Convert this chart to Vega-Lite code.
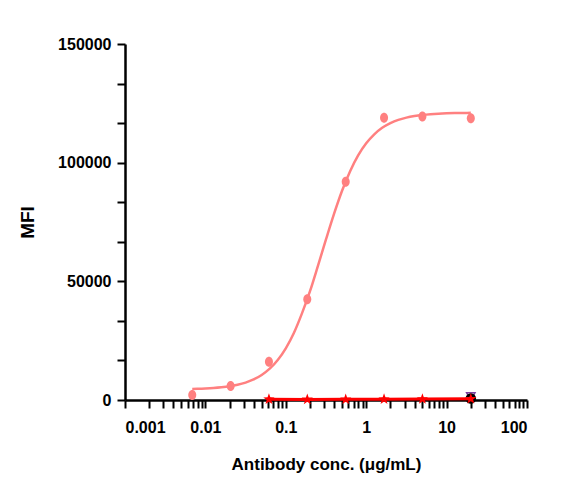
{
  "$schema": "https://vega.github.io/schema/vega-lite/v6.json",
  "width": 402,
  "height": 356,
  "autosize": {"type": "none"},
  "padding": {"left": 125, "top": 44, "right": 57, "bottom": 102},
  "background": "white",
  "config": {
    "view": {"stroke": null},
    "axis": {
      "grid": false,
      "domainColor": "black",
      "tickColor": "black",
      "labelColor": "black",
      "titleColor": "black",
      "labelFont": "Liberation Sans, Arial, sans-serif",
      "titleFont": "Liberation Sans, Arial, sans-serif",
      "labelFontWeight": "bold",
      "titleFontWeight": "bold",
      "domainWidth": 2.5,
      "tickWidth": 2
    }
  },
  "datasets": {
    "curve": [
      {"conc": 0.00686, "mfi": 4638},
      {"conc": 0.00794, "mfi": 4703},
      {"conc": 0.01, "mfi": 4845},
      {"conc": 0.0126, "mfi": 5051},
      {"conc": 0.0158, "mfi": 5352},
      {"conc": 0.02, "mfi": 5790},
      {"conc": 0.0251, "mfi": 6425},
      {"conc": 0.0316, "mfi": 7344},
      {"conc": 0.0398, "mfi": 8665},
      {"conc": 0.0501, "mfi": 10545},
      {"conc": 0.0631, "mfi": 13195},
      {"conc": 0.0794, "mfi": 16852},
      {"conc": 0.1, "mfi": 21777},
      {"conc": 0.126, "mfi": 28219},
      {"conc": 0.158, "mfi": 36272},
      {"conc": 0.2, "mfi": 45842},
      {"conc": 0.251, "mfi": 56518},
      {"conc": 0.316, "mfi": 67640},
      {"conc": 0.398, "mfi": 78411},
      {"conc": 0.501, "mfi": 88144},
      {"conc": 0.631, "mfi": 96394},
      {"conc": 0.794, "mfi": 103035},
      {"conc": 1, "mfi": 108135},
      {"conc": 1.26, "mfi": 111927},
      {"conc": 1.58, "mfi": 114681},
      {"conc": 2, "mfi": 116642},
      {"conc": 2.51, "mfi": 118019},
      {"conc": 3.16, "mfi": 118976},
      {"conc": 3.98, "mfi": 119642},
      {"conc": 5.01, "mfi": 120103},
      {"conc": 6.31, "mfi": 120419},
      {"conc": 7.94, "mfi": 120634},
      {"conc": 10, "mfi": 120781},
      {"conc": 12.6, "mfi": 120883},
      {"conc": 15.8, "mfi": 120952},
      {"conc": 20, "mfi": 120998}
    ],
    "points": [
      {"conc": 0.00686, "mfi": 2100},
      {"conc": 0.0206, "mfi": 5900},
      {"conc": 0.0617, "mfi": 16100},
      {"conc": 0.185, "mfi": 42500},
      {"conc": 0.556, "mfi": 92000},
      {"conc": 1.667, "mfi": 118900},
      {"conc": 5, "mfi": 119400},
      {"conc": 20, "mfi": 118700}
    ],
    "stars": [
      {"conc": 0.0617, "mfi": 300},
      {"conc": 0.185, "mfi": 250},
      {"conc": 0.556, "mfi": 280},
      {"conc": 1.667, "mfi": 320},
      {"conc": 5, "mfi": 400},
      {"conc": 20, "mfi": 500}
    ],
    "isotype": [
      {"conc": 20, "mfi": 1500, "series": "triangle"},
      {"conc": 20, "mfi": 600, "series": "black"}
    ]
  },
  "layer": [
    {
      "data": {"name": "curve"},
      "mark": {"type": "line", "color": "#FF8080", "strokeWidth": 2.5, "interpolate": "monotone"},
      "encoding": {
        "x": {
          "field": "conc", "type": "quantitative",
          "scale": {"type": "log", "domain": [0.001, 100], "nice": false},
          "axis": {
            "orient": "bottom",
            "values": [0.001, 0.002, 0.003, 0.004, 0.005, 0.006, 0.007, 0.008, 0.009,
                       0.01, 0.02, 0.03, 0.04, 0.05, 0.06, 0.07, 0.08, 0.09,
                       0.1, 0.2, 0.3, 0.4, 0.5, 0.6, 0.7, 0.8, 0.9,
                       1, 2, 3, 4, 5, 6, 7, 8, 9,
                       10, 20, 30, 40, 50, 60, 70, 80, 90, 100],
            "tickCount": 200,
            "labelExpr": "indexof([0.001, 0.01, 0.1, 1, 10, 100], datum.value) >= 0 ? format(datum.value, '~g') : ''",
            "labelOverlap": false,
            "tickSize": 8,
            "labelPadding": 11,
            "labelFontSize": 16,
            "title": "Antibody conc. (μg/mL)",
            "titleFontSize": 17,
            "titlePadding": 21,
            "encode": {
              "ticks": {
                "update": {
                  "y2": {"signal": "indexof([0.001, 0.01, 0.1, 1, 10, 100], datum.value) >= 0 ? 8 : 5"}
                }
              }
            }
          }
        },
        "y": {
          "field": "mfi", "type": "quantitative",
          "scale": {"domain": [0, 150000], "nice": false},
          "axis": {
            "orient": "left",
            "values": [0, 16666.67, 33333.33, 50000, 66666.67, 83333.33, 100000, 116666.67, 133333.33, 150000],
            "tickCount": 200,
            "labelExpr": "indexof([0, 50000, 100000, 150000], datum.value) >= 0 ? format(datum.value, 'd') : ''",
            "labelOverlap": false,
            "tickSize": 8,
            "labelPadding": 6,
            "labelFontSize": 16,
            "title": "MFI",
            "titleFontSize": 19,
            "titlePadding": 20,
            "encode": {
              "ticks": {
                "update": {
                  "x2": {"signal": "indexof([0, 50000, 100000, 150000], datum.value) >= 0 ? -8 : -5"}
                }
              }
            }
          }
        }
      }
    },
    {
      "data": {"name": "points"},
      "mark": {"type": "point", "filled": true, "opacity": 1, "color": "#FF8080", "size": 100,
               "shape": "M -0.8 0 A 0.8 1 0 1 0 0.8 0 A 0.8 1 0 1 0 -0.8 0 Z"},
      "encoding": {
        "x": {"field": "conc", "type": "quantitative", "scale": {"type": "log", "domain": [0.001, 100], "nice": false}},
        "y": {"field": "mfi", "type": "quantitative", "scale": {"domain": [0, 150000], "nice": false}}
      }
    },
    {
      "data": {"name": "isotype"},
      "transform": [{"filter": "datum.series === 'triangle'"}],
      "mark": {"type": "point", "filled": false, "shape": "triangle-down", "color": "#7B3F9E", "strokeWidth": 1.5, "size": 70, "opacity": 1},
      "encoding": {
        "x": {"field": "conc", "type": "quantitative", "scale": {"type": "log", "domain": [0.001, 100], "nice": false}},
        "y": {"field": "mfi", "type": "quantitative", "scale": {"domain": [0, 150000], "nice": false}}
      }
    },
    {
      "data": {"name": "isotype"},
      "transform": [{"filter": "datum.series === 'black'"}],
      "mark": {"type": "point", "filled": true, "shape": "circle", "color": "black", "size": 110, "opacity": 1},
      "encoding": {
        "x": {"field": "conc", "type": "quantitative", "scale": {"type": "log", "domain": [0.001, 100], "nice": false}},
        "y": {"field": "mfi", "type": "quantitative", "scale": {"domain": [0, 150000], "nice": false}}
      }
    },
    {
      "data": {"name": "stars"},
      "mark": {"type": "line", "color": "#FF0000", "strokeWidth": 3},
      "encoding": {
        "x": {"field": "conc", "type": "quantitative", "scale": {"type": "log", "domain": [0.001, 100], "nice": false}},
        "y": {"field": "mfi", "type": "quantitative", "scale": {"domain": [0, 150000], "nice": false}}
      }
    },
    {
      "data": {"name": "stars"},
      "mark": {"type": "point", "filled": true, "color": "#FF0000", "size": 140, "opacity": 1,
               "shape": "M 0 -1 L 0.235 -0.324 L 0.951 -0.309 L 0.38 0.124 L 0.588 0.809 L 0 0.4 L -0.588 0.809 L -0.38 0.124 L -0.951 -0.309 L -0.235 -0.324 Z"},
      "encoding": {
        "x": {"field": "conc", "type": "quantitative", "scale": {"type": "log", "domain": [0.001, 100], "nice": false}},
        "y": {"field": "mfi", "type": "quantitative", "scale": {"domain": [0, 150000], "nice": false}}
      }
    }
  ]
}
